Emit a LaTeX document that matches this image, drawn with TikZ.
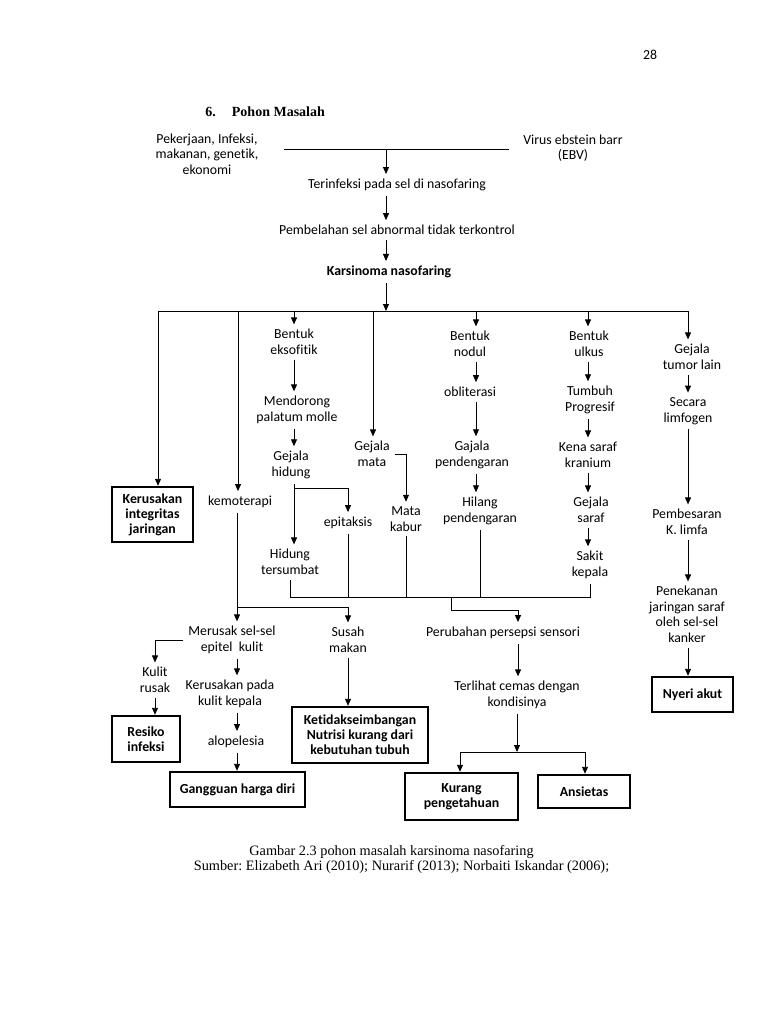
\documentclass[tikz,border=0pt]{standalone}
\usepackage{fontspec}
\setmainfont{Carlito}[Ligatures=NoCommon]
\newfontfamily\timesfont{Liberation Serif}
\usetikzlibrary{arrows.meta}
\frenchspacing

\begin{document}
\begin{tikzpicture}[x=1pt, y=-1pt, line width=0.9pt,
	txt/.style={align=center, inner sep=1pt, outer sep=4pt, font=\fontsize{13.8}{15.5}\selectfont},
	probBox/.style={draw, line width=2.4pt, align=center, inner sep=2pt, font=\fontsize{13.8}{15}\selectfont\bfseries},
	arr/.style={-{Triangle[length=7pt, width=6pt]}}]
	\useasboundingbox (0,0) rectangle (768,1024);
	% levels of the horizontal lines
	\def\busY {311};
	\def\gatherY {597};
	% page number and title
	\node[txt] (page) at (650,55) {28};
	\node[anchor=west, inner sep=0pt, font=\fontsize{14}{16}\selectfont\timesfont\bfseries] (title) at (205,112) {6.\hspace{16pt}Pohon Masalah};
	% causes
	\node[txt] (cause1) at (207,154) {Pekerjaan, Infeksi,\\makanan, genetik,\\ekonomi};
	\node[txt] (cause2) at (573,148) {Virus ebstein barr\\(EBV)};
	\coordinate (barL) at (284,149);
	\coordinate (barR) at (509,149);
	\coordinate (barM) at (386,149);
	\draw (barL) -- (barR);
	% main stem
	\node[txt] (infeksi) at (397,185) {Terinfeksi pada sel di nasofaring};
	\node[txt] (pembelahan) at (397,230) {Pembelahan sel abnormal tidak terkontrol};
	\node[txt, font=\fontsize{13.8}{15.5}\selectfont\bfseries] (karsinoma) at (389,272) {Karsinoma nasofaring};
	\draw[arr] (barM) -- (barM |- infeksi.north);
	\foreach \a/\b in {infeksi/pembelahan, pembelahan/karsinoma}
	{
		\draw[arr] (\a.south -| barM) -- (\b.north -| barM);
	}
	% bus under karsinoma
	\coordinate (busL) at (158,\busY);
	\coordinate (busKemo) at (238,\busY);
	\coordinate (colA) at (294,\busY);
	\coordinate (busMata) at (373,\busY);
	\coordinate (busM) at (386,\busY);
	\coordinate (colB) at (476,\busY);
	\coordinate (colC) at (588,\busY);
	\coordinate (colD) at (688,\busY);
	\draw[arr] (karsinoma.south -| barM) -- (busM);
	\draw (busL) -- (colD);
	% branch nodes
	\node[probBox, minimum width=81pt, minimum height=55pt, inner sep=1pt] (kerusakan) at (152.5,514.5) {Kerusakan\\integritas\\jaringan};
	\node[txt] (kemo) at (240,502) {kemoterapi};
	\node[txt] (eksofitik) at (294,342) {Bentuk\\eksofitik};
	\node[txt] (mendorong) at (297,410) {Mendorong\\palatum molle};
	\node[txt] (hidung) at (291,465) {Gejala\\hidung};
	\node[txt] (tersumbat) at (290,562) {Hidung\\tersumbat};
	\node[txt] (epitaksis) at (348,523) {epitaksis};
	\node[txt] (mata) at (372,454) {Gejala\\mata};
	\node[txt] (kabur) at (406,519) {Mata\\kabur};
	\node[txt] (nodul) at (470,344) {Bentuk\\nodul};
	\node[txt] (obliterasi) at (470,392) {obliterasi};
	\node[txt] (gajala) at (472,455) {Gajala\\pendengaran};
	\node[txt] (hilang) at (480,511) {Hilang\\pendengaran};
	\node[txt] (ulkus) at (589,344) {Bentuk\\ulkus};
	\node[txt] (tumbuh) at (590,400) {Tumbuh\\Progresif};
	\node[txt] (kena) at (588,455) {Kena saraf\\kranium};
	\node[txt] (gejalaSaraf) at (591,510) {Gejala\\saraf};
	\node[txt] (sakit) at (590,565) {Sakit\\kepala};
	\node[txt] (tumor) at (692,357) {Gejala\\tumor lain};
	\node[txt] (limfogen) at (688,411) {Secara\\limfogen};
	\node[txt] (pembesaran) at (687,522) {Pembesaran\\K. limfa};
	\node[txt] (penekanan) at (687,614.5) {Penekanan\\jaringan saraf\\oleh sel-sel\\kanker};
	\node[probBox, minimum width=81pt, minimum height=35pt] (nyeri) at (692.5,694.5) {Nyeri akut};
	% arrows from the bus
	\draw[arr] (busL) -- (busL |- kerusakan.north);
	\draw[arr] (busKemo) -- (busKemo |- kemo.north);
	\draw[arr] (colA) -- (colA |- eksofitik.north);
	\draw[arr] (busMata) -- (busMata |- mata.north);
	\draw[arr] (colB) -- (colB |- nodul.north);
	\draw[arr] (colC) -- (colC |- ulkus.north);
	\draw[arr] (colD) -- (colD |- tumor.north);
	% column chains
	\foreach \a/\b in {eksofitik/mendorong, mendorong/hidung, hidung/tersumbat}
	{
		\draw[arr] (\a.south -| colA) -- (\b.north -| colA);
	}
	\foreach \a/\b in {nodul/obliterasi, obliterasi/gajala, gajala/hilang}
	{
		\draw[arr] (\a.south -| colB) -- (\b.north -| colB);
	}
	\foreach \a/\b in {ulkus/tumbuh, tumbuh/kena, kena/gejalaSaraf, gejalaSaraf/sakit}
	{
		\draw[arr] (\a.south -| colC) -- (\b.north -| colC);
	}
	\foreach \a/\b in {tumor/limfogen, limfogen/pembesaran, pembesaran/penekanan, penekanan/nyeri}
	{
		\draw[arr] (\a.south -| colD) -- (\b.north -| colD);
	}
	\coordinate (hBranch) at (294,488);
	\draw[arr] (hBranch) -| (epitaksis.north);
	\draw[arr] (mata.east) -| (kabur.north);
	% gathering line
	\coordinate (gatherR) at (590,\gatherY);
	\coordinate (gatherM) at (451,\gatherY);
	\coordinate (stepR) at (518,610);
	\draw (tersumbat.south) |- (gatherR) -- (sakit.south);
	\foreach \n in {epitaksis, kabur, hilang}
	{
		\draw (\n.south) -- (\n.south |- gatherR);
	}
	\node[txt] (persepsi) at (503,633) {Perubahan persepsi sensori};
	\node[txt] (terlihat) at (517,695) {Terlihat cemas dengan\\kondisinya};
	\node[probBox, minimum width=113pt, minimum height=47pt] (kurang) at (461.5,796.5) {Kurang\\pengetahuan};
	\node[probBox, minimum width=92pt, minimum height=33pt] (ansietas) at (584,791.5) {Ansietas};
	\draw[arr] (gatherM) |- (stepR) -- (stepR |- persepsi.north);
	\draw[arr] (persepsi.south -| stepR) -- (terlihat.north -| stepR);
	\coordinate (split) at (517,752);
	\coordinate (splitL) at (460,752);
	\coordinate (splitR) at (585,752);
	\draw[arr] (terlihat.south -| split) -- (split);
	\draw (splitL) -- (splitR);
	\draw[arr] (splitL) -- (splitL |- kurang.north);
	\draw[arr] (splitR) -- (splitR |- ansietas.north);
	% kemoterapi side
	\coordinate (kemoSplit) at (237,607);
	\node[txt] (merusak) at (232,640) {Merusak sel-sel\\epitel\ \ kulit};
	\node[txt] (susah) at (348,640) {Susah\\makan};
	\node[txt] (kulitRusak) at (155,680) {Kulit\\rusak};
	\node[txt] (kerusakanKulit) at (230,694) {Kerusakan pada\\kulit kepala};
	\node[txt] (alopelesia) at (236,742) {alopelesia};
	\node[probBox, minimum width=68pt, minimum height=46pt] (resiko) at (146,739) {Resiko\\infeksi};
	\node[probBox, minimum width=135pt, minimum height=35pt] (gangguan) at (237.5,789.5) {Gangguan harga diri};
	\node[probBox, minimum width=136pt, minimum height=56pt] (ketidak) at (360,735) {Ketidakseimbangan\\Nutrisi kurang dari\\kebutuhan tubuh};
	\draw (kemo.south -| kemoSplit) -- (kemoSplit);
	\draw[arr] (kemoSplit) -- (kemoSplit |- merusak.north);
	\draw[arr] (kemoSplit) -| (susah.north);
	\draw[arr] (merusak.west) -| (kulitRusak.north);
	\draw[arr] (kulitRusak.south) -- (kulitRusak.south |- resiko.north);
	\foreach \a/\b in {merusak/kerusakanKulit, kerusakanKulit/alopelesia, alopelesia/gangguan}
	{
		\draw[arr] (\a.south -| kemoSplit) -- (\b.north -| kemoSplit);
	}
	\draw[arr] (susah.south) -- (susah.south |- ketidak.north);
	% caption
	\node[anchor=base, inner sep=0pt, font=\fontsize{14.3}{14}\selectfont\timesfont] (caption) at (391.5,855) {Gambar 2.3 pohon masalah karsinoma nasofaring};
	\node[anchor=base, inner sep=0pt, font=\fontsize{14.3}{14}\selectfont\timesfont] (source) at (401.5,870) {Sumber: Elizabeth Ari (2010); Nurarif (2013); Norbaiti Iskandar (2006);};
\end{tikzpicture}
\end{document}
